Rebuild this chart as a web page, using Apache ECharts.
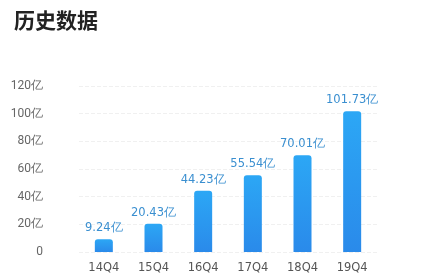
<!DOCTYPE html>
<html>
<head>
<meta charset="utf-8">
<script src="https://cdn.jsdelivr.net/npm/echarts@6/dist/echarts.min.js"></script>
<style>
html,body{margin:0;padding:0;background:#fff;}
#box{width:435px;height:279px;}
</style>
</head>
<body>
<div id="box"></div>
<script>
var quarters = ['14Q4', '15Q4', '16Q4', '17Q4', '18Q4', '19Q4'];
var amounts = [9.24, 20.43, 44.23, 55.54, 70.01, 101.73];
var yMax = 120;
var yStep = 20;

var myChart = echarts.init(document.getElementById('box'));
var option = {
	title: {
		text: '历史数据',
		left: 9,
		top: 5,
		textStyle: {
			fontFamily: 'Noto Sans CJK SC',
			fontSize: 21,
			fontWeight: 'bold',
			color: '#222'
		}
	},
	grid: {
		left: 79,
		right: 58,
		top: 86,
		bottom: 27
	},
	xAxis: {
		type: 'category',
		data: quarters,
		axisLine: { show: false },
		axisTick: { show: false },
		axisLabel: {
			color: '#555',
			fontFamily: 'DejaVu Sans',
			fontSize: 11.5,
			margin: 10
		}
	},
	yAxis: {
		type: 'value',
		min: 0,
		max: yMax,
		interval: yStep,
		axisLine: { show: false },
		axisTick: { show: false },
		axisLabel: {
			color: '#666',
			fontFamily: 'Roboto',
			fontSize: 12,
			margin: 36,
			formatter: function (v) { return v === 0 ? '0' : v + '亿'; }
		},
		splitLine: {
			lineStyle: { color: '#f0f0f0', type: 'dashed' }
		}
	},
	series: [{
		type: 'bar',
		data: amounts,
		barWidth: 18,
		itemStyle: {
			borderRadius: [3, 3, 0, 0],
			color: new echarts.graphic.LinearGradient(0, 0, 0, 1, [
				{ offset: 0, color: '#2ca7f5' },
				{ offset: 1, color: '#2a8aea' }
			])
		},
		label: {
			show: true,
			position: 'top',
			distance: 5,
			color: '#3a8fd0',
			fontFamily: 'DejaVu Sans',
			fontSize: 11.5,
			formatter: function (p) { return p.value + '亿'; }
		}
	}]
};
myChart.setOption(option);
</script>
</body>
</html>
